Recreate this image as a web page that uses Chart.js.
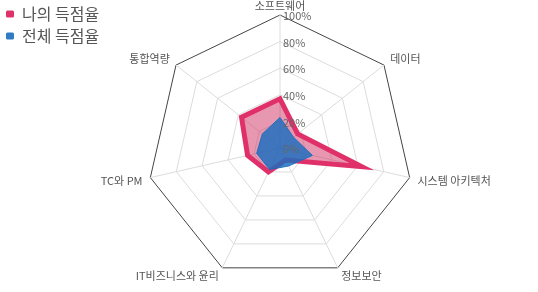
<!DOCTYPE html>
<html>
<head>
<meta charset="utf-8">
<script src="https://cdn.jsdelivr.net/npm/chart.js@4/dist/chart.umd.min.js"></script>
<style>
  body { margin: 0; background: #fff; }
  #wrap { width: 538px; height: 292px; position: relative; }
</style>
</head>
<body>
<div id="wrap"><canvas id="scoreChart"></canvas></div>
<script>
// 과목 영역
const categories = ['소프트웨어', '데이터', '시스템 아키텍처', '정보보안', 'IT비즈니스와 윤리', 'TC와 PM', '통합역량'];
// 득점율 (%)
const myScores = [37, 17, 63, 10, 20, 25, 37];
const allScores = [23, 13, 25, 15, 18, 18, 17];
const seriesNames = ['나의 득점율', '전체 득점율'];
// 눈금
const tickValues = [0, 20, 40, 60, 80, 100];

const FONT = '"Noto Sans CJK KR", "Noto Sans", sans-serif';

// 눈금 라벨을 축 오른쪽에, 데이터 위에 그린다
const tickLabelPlugin = {
    id: 'tickLabelPlugin',
    afterDatasetsDraw(chart) {
        const scale = chart.scales.r;
        const ctx = chart.ctx;
        ctx.save();
        ctx.font = '11px ' + FONT;
        ctx.fillStyle = '#666';
        ctx.textAlign = 'left';
        ctx.textBaseline = 'middle';
        tickValues.forEach(v => {
            const p = scale.getPointPositionForValue(0, v);
            ctx.fillText(v + '%', p.x + 3, p.y + 1);
        });
        ctx.restore();
    }
};

// 범례는 캔버스 왼쪽 끝에 붙인다 (차트만 오른쪽으로 밀림)
const legendLeftPlugin = {
    id: 'legendLeftPlugin',
    beforeDraw(chart) {
        if (chart.legend) chart.legend.left = 0;
    }
};

document.addEventListener('DOMContentLoaded', () => {
    const ctx = document.getElementById('scoreChart').getContext('2d');
    new Chart(ctx, {
        type: 'radar',
        data: {
            labels: categories,
            datasets: [{
                label: seriesNames[0],
                data: myScores,
                backgroundColor: 'rgba(210, 55, 105, 0.52)',
                borderColor: '#e0306a',
                borderWidth: 5,
                borderJoinStyle: 'miter',
                pointRadius: 0,
                order: 2
            }, {
                label: seriesNames[1],
                data: allScores,
                backgroundColor: 'rgba(25, 110, 190, 0.82)',
                borderColor: 'rgba(25, 110, 190, 0.9)',
                borderWidth: 1,
                pointRadius: 0,
                order: 1
            }]
        },
        options: {
            responsive: true,
            maintainAspectRatio: false,
            animation: false,
            // 차트 중심을 약간 오른쪽으로
            layout: { padding: { left: 22, top: 0, right: 0, bottom: 6 } },
            plugins: {
                tooltip: { enabled: false },
                legend: {
                    position: 'chartArea',
                    align: 'start',
                    labels: {
                        font: { family: FONT, size: 16 },
                        color: '#555',
                        boxWidth: 8,
                        boxHeight: 7,
                        padding: 6,
                        useBorderRadius: true,
                        borderRadius: 1.5,
                        sort: (a, b) => a.datasetIndex - b.datasetIndex,
                        generateLabels: chart => Chart.defaults.plugins.legend.labels.generateLabels(chart)
                            .map(item => ({ ...item, fillStyle: item.strokeStyle, lineWidth: 0 }))
                    }
                }
            },
            scales: {
                r: {
                    min: 0,
                    max: 100,
                    ticks: { stepSize: 20, display: false },
                    grid: {
                        color: c => (c.tick && c.tick.value === 100) ? '#444' : '#dcdcdc'
                    },
                    angleLines: { color: '#dcdcdc' },
                    pointLabels: {
                        font: { family: FONT, size: 11, lineHeight: 2 / 11 },
                        color: '#555',
                        padding: 8
                    }
                }
            }
        },
        plugins: [tickLabelPlugin, legendLeftPlugin]
    });
});
</script>
</body>
</html>
